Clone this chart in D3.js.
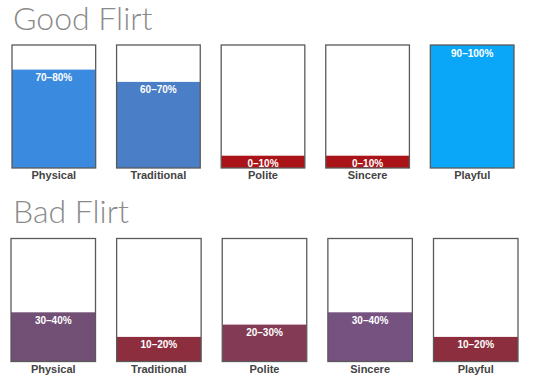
<!DOCTYPE html>
<html lang="en">
<head>
  <meta charset="UTF-8">
  <title>Good Flirt / Bad Flirt</title>
  <style>
    body { margin: 0; background: #fff; }
    svg { display: block; }
  </style>
</head>
<body>
  <svg id="chart" width="550" height="385"></svg>

  <script src="https://d3js.org/d3.v7.min.js"></script>
  <script>
    // data
    var categories = ["Physical", "Traditional", "Polite", "Sincere", "Playful"];
    var goodValues = [80, 70, 10, 10, 100];
    var goodLabels = ["70–80%", "60–70%", "0–10%", "0–10%", "90–100%"];
    var goodColors = ["#3a8be0", "#4a7ec6", "#aa1418", "#aa1418", "#0aa7f8"];
    var badValues = [40, 20, 30, 40, 20];
    var badLabels = ["30–40%", "10–20%", "20–30%", "30–40%", "10–20%"];
    var badColors = ["#724f75", "#8c2e3e", "#833a55", "#755280", "#8c2e3e"];

    var svg = d3.select("#chart");

    var panels = [
      { title: "Good Flirt", values: goodValues, labels: goodLabels, colors: goodColors,
        titleY: 30, top: 45, bottom: 168, x0: 12, x1: 514 },
      { title: "Bad Flirt", values: badValues, labels: badLabels, colors: badColors,
        titleY: 223, top: 238.5, bottom: 361.5, x0: 11, x1: 518 }
    ];

    panels.forEach(drawPanel);

    function drawPanel(p) {
      var x = d3.scaleBand()
        .domain(categories)
        .range([p.x0, p.x1])
        .paddingInner(0.2)
        .paddingOuter(0);
      var y = d3.scaleLinear().domain([0, 100]).range([p.bottom, p.top]);

      var rows = categories.map(function(c, i) {
        return { cat: c, v: p.values[i], label: p.labels[i], color: p.colors[i] };
      });

      svg.append("text")
        .attr("x", 13)
        .attr("y", p.titleY)
        .attr("fill", "#8a8a8a")
        .style("font-family", "Lato, 'Open Sans', sans-serif")
        .style("font-weight", 300)
        .style("font-size", "32px")
        .text(p.title);

      var g = svg.append("g").selectAll("g").data(rows).join("g");

      // white box
      g.append("rect")
        .attr("x", function(d) { return x(d.cat); })
        .attr("y", y(100))
        .attr("width", x.bandwidth())
        .attr("height", y(0) - y(100))
        .attr("fill", "#fff");

      // fill
      g.append("rect")
        .attr("x", function(d) { return x(d.cat); })
        .attr("y", function(d) { return y(d.v); })
        .attr("width", x.bandwidth())
        .attr("height", function(d) { return y(0) - y(d.v); })
        .attr("fill", function(d) { return d.color; });

      // outline
      g.append("rect")
        .attr("x", function(d) { return x(d.cat); })
        .attr("y", y(100))
        .attr("width", x.bandwidth())
        .attr("height", y(0) - y(100))
        .attr("fill", "none")
        .attr("stroke", "#5a5a5a")
        .attr("stroke-width", 1.3);

      // value label
      g.append("text")
        .attr("x", function(d) { return x(d.cat) + x.bandwidth() / 2; })
        .attr("y", function(d) { return y(d.v) + 11.5; })
        .attr("text-anchor", "middle")
        .attr("fill", "#fff")
        .style("font-family", "'Liberation Sans', Arial, sans-serif")
        .style("font-weight", "bold")
        .style("font-size", "10px")
        .text(function(d) { return d.label; });

      // category label
      g.append("text")
        .attr("x", function(d) { return x(d.cat) + x.bandwidth() / 2; })
        .attr("y", p.bottom + 11)
        .attr("text-anchor", "middle")
        .attr("fill", "#444")
        .style("font-family", "'Liberation Sans', Arial, sans-serif")
        .style("font-weight", "bold")
        .style("font-size", "11px")
        .text(function(d) { return d.cat; });
    }
  </script>
</body>
</html>
